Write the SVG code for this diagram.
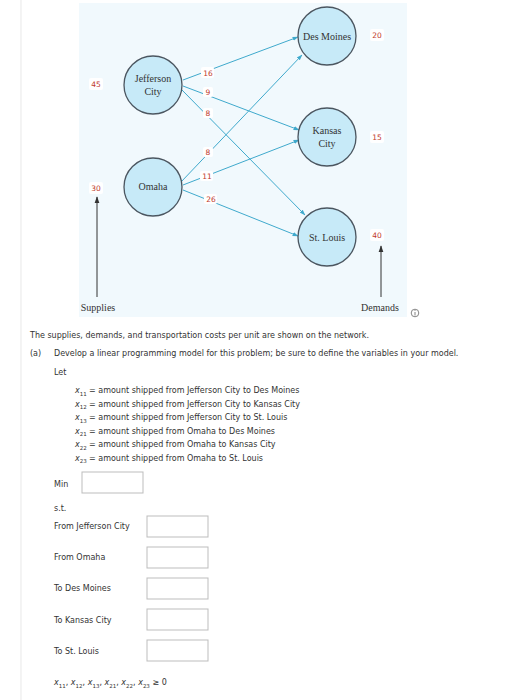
<svg xmlns="http://www.w3.org/2000/svg" width="505" height="700" viewBox="0 0 505 700">
<defs>
<marker id="ah" viewBox="0 0 10 10" refX="9" refY="5" markerWidth="6" markerHeight="6" orient="auto" markerUnits="userSpaceOnUse"><path d="M0,1.5 L10,5 L0,8.5 z" fill="#3fa9cc"/></marker>
<marker id="ahk" viewBox="0 0 10 10" refX="9" refY="5" markerWidth="7" markerHeight="7" orient="auto" markerUnits="userSpaceOnUse"><path d="M0,1.5 L10,5 L0,8.5 z" fill="#333"/></marker>
<style>
.node{fill:#c7eaf8;stroke:#4b5660;stroke-width:1.3}
.nt{font-family:"Liberation Serif",serif;font-size:10px;fill:#333;text-anchor:middle}
.edge{stroke:#3fa9cc;stroke-width:1;fill:none;marker-end:url(#ah)}
.lb{fill:#fff}
.num{font-family:"DejaVu Sans",sans-serif;font-size:7.5px;fill:#c0392b;text-anchor:middle}
.body{font-family:"DejaVu Sans",Verdana,sans-serif;font-size:8px;fill:#333}
.sub{font-size:5.5px}
.box{fill:#fff;stroke:#bdbdbd;stroke-width:1}
.cap{font-family:"Liberation Serif",serif;font-size:10px;fill:#333;text-anchor:middle}
</style>
</defs>
<rect width="505" height="700" fill="#fff"/>
<line x1="21" y1="0" x2="21" y2="700" stroke="#ececec" stroke-width="1.2"/>
<rect x="79" y="3" width="328" height="314" fill="#f1f9fd"/>

<g id="connectors">
<line class="edge" x1="183" y1="80" x2="298" y2="37"/>
<line class="edge" x1="183" y1="86" x2="299" y2="130"/>
<line class="edge" x1="182" y1="90" x2="305" y2="215"/>
<line class="edge" x1="181" y1="182" x2="302" y2="55"/>
<line class="edge" x1="183" y1="185" x2="299" y2="140"/>
<line class="edge" x1="183" y1="190" x2="298" y2="236"/>
<line x1="97" y1="297" x2="97" y2="197" stroke="#333" stroke-width="1" marker-end="url(#ahk)"/>
<line x1="381" y1="297" x2="381" y2="246" stroke="#333" stroke-width="1" marker-end="url(#ahk)"/>
</g>

<g id="edge-labels">
<rect class="lb" x="201" y="67" width="13" height="11" rx="2"/><text class="num" x="208" y="76">16</text>
<rect class="lb" x="203" y="87" width="10" height="10" rx="2"/><text class="num" x="208" y="95">9</text>
<rect class="lb" x="203" y="108" width="10" height="10" rx="2"/><text class="num" x="208" y="116">8</text>
<rect class="lb" x="203" y="147" width="10" height="10" rx="2"/><text class="num" x="208" y="155">8</text>
<rect class="lb" x="200" y="171" width="13" height="10" rx="2"/><text class="num" x="207" y="179">11</text>
<rect class="lb" x="204" y="194" width="13" height="10" rx="2"/><text class="num" x="211" y="202">26</text>
</g>

<g id="supplies">
<rect class="lb" x="89" y="78" width="14" height="12" rx="2"/><text class="num" x="96" y="87">45</text>
<rect class="lb" x="89" y="182" width="14" height="12" rx="2"/><text class="num" x="96" y="191">30</text>
<text class="cap" x="98" y="311">Supplies</text>
</g>
<g id="demands">
<rect class="lb" x="370" y="29" width="14" height="12" rx="2"/><text class="num" x="377" y="38">20</text>
<rect class="lb" x="370" y="131" width="14" height="12" rx="2"/><text class="num" x="377" y="140">15</text>
<rect class="lb" x="370" y="229" width="14" height="12" rx="2"/><text class="num" x="377" y="238">40</text>
<text class="cap" x="380" y="311">Demands</text>
</g>

<g id="jefferson-city"><circle class="node" cx="153" cy="85" r="29"/><text class="nt" x="153" y="82">Jefferson</text><text class="nt" x="153" y="95">City</text></g>
<g id="omaha"><circle class="node" cx="153" cy="187" r="29"/><text class="nt" x="153" y="190">Omaha</text></g>
<g id="des-moines"><circle class="node" cx="327" cy="36" r="29"/><text class="nt" x="327" y="39.5">Des Moines</text></g>
<g id="kansas-city"><circle class="node" cx="327" cy="137" r="29"/><text class="nt" x="327" y="134">Kansas</text><text class="nt" x="327" y="147">City</text></g>
<g id="st-louis"><circle class="node" cx="327" cy="237" r="29"/><text class="nt" x="327" y="240.5">St. Louis</text></g>

<g id="info-icon"><circle cx="415" cy="313" r="3.8" fill="none" stroke="#777" stroke-width="0.9"/><line x1="415" y1="312" x2="415" y2="315.5" stroke="#777" stroke-width="0.9"/><circle cx="415" cy="310.6" r="0.5" fill="#777"/></g>

<g id="text">
<text class="body" x="30" y="338">The supplies, demands, and transportation costs per unit are shown on the network.</text>
<text class="body" x="30" y="356">(a)</text>
<text class="body" x="54" y="356">Develop a linear programming model for this problem; be sure to define the variables in your model.</text>
<text class="body" x="54" y="375">Let</text>
<text class="body" x="75" y="393"><tspan font-style="italic">x</tspan><tspan class="sub" dy="2.5">11</tspan><tspan dy="-2.5" x="89">= amount shipped from Jefferson City to Des Moines</tspan></text>
<text class="body" x="75" y="406.5"><tspan font-style="italic">x</tspan><tspan class="sub" dy="2.5">12</tspan><tspan dy="-2.5" x="89">= amount shipped from Jefferson City to Kansas City</tspan></text>
<text class="body" x="75" y="420"><tspan font-style="italic">x</tspan><tspan class="sub" dy="2.5">13</tspan><tspan dy="-2.5" x="89">= amount shipped from Jefferson City to St. Louis</tspan></text>
<text class="body" x="75" y="433.5"><tspan font-style="italic">x</tspan><tspan class="sub" dy="2.5">21</tspan><tspan dy="-2.5" x="89">= amount shipped from Omaha to Des Moines</tspan></text>
<text class="body" x="75" y="447"><tspan font-style="italic">x</tspan><tspan class="sub" dy="2.5">22</tspan><tspan dy="-2.5" x="89">= amount shipped from Omaha to Kansas City</tspan></text>
<text class="body" x="75" y="460.5"><tspan font-style="italic">x</tspan><tspan class="sub" dy="2.5">23</tspan><tspan dy="-2.5" x="89">= amount shipped from Omaha to St. Louis</tspan></text>
<text class="body" x="54" y="487">Min</text>
<rect class="box" x="82" y="472" width="61" height="21"/>
<text class="body" x="54" y="511">s.t.</text>
<text class="body" x="54" y="529">From Jefferson City</text>
<rect class="box" x="147" y="516" width="61" height="21"/>
<text class="body" x="54" y="560">From Omaha</text>
<rect class="box" x="147" y="547" width="61" height="21"/>
<text class="body" x="54" y="591">To Des Moines</text>
<rect class="box" x="147" y="578" width="61" height="21"/>
<text class="body" x="54" y="623">To Kansas City</text>
<rect class="box" x="147" y="609" width="61" height="21"/>
<text class="body" x="54" y="654">To St. Louis</text>
<rect class="box" x="147" y="640" width="61" height="21"/>
<text class="body" x="54" y="685"><tspan font-style="italic">x</tspan><tspan class="sub" dy="2.5">11</tspan><tspan dy="-2.5">, </tspan><tspan font-style="italic">x</tspan><tspan class="sub" dy="2.5">12</tspan><tspan dy="-2.5">, </tspan><tspan font-style="italic">x</tspan><tspan class="sub" dy="2.5">13</tspan><tspan dy="-2.5">, </tspan><tspan font-style="italic">x</tspan><tspan class="sub" dy="2.5">21</tspan><tspan dy="-2.5">, </tspan><tspan font-style="italic">x</tspan><tspan class="sub" dy="2.5">22</tspan><tspan dy="-2.5">, </tspan><tspan font-style="italic">x</tspan><tspan class="sub" dy="2.5">23</tspan><tspan dy="-2.5"> ≥ 0</tspan></text>
</g>
</svg>
